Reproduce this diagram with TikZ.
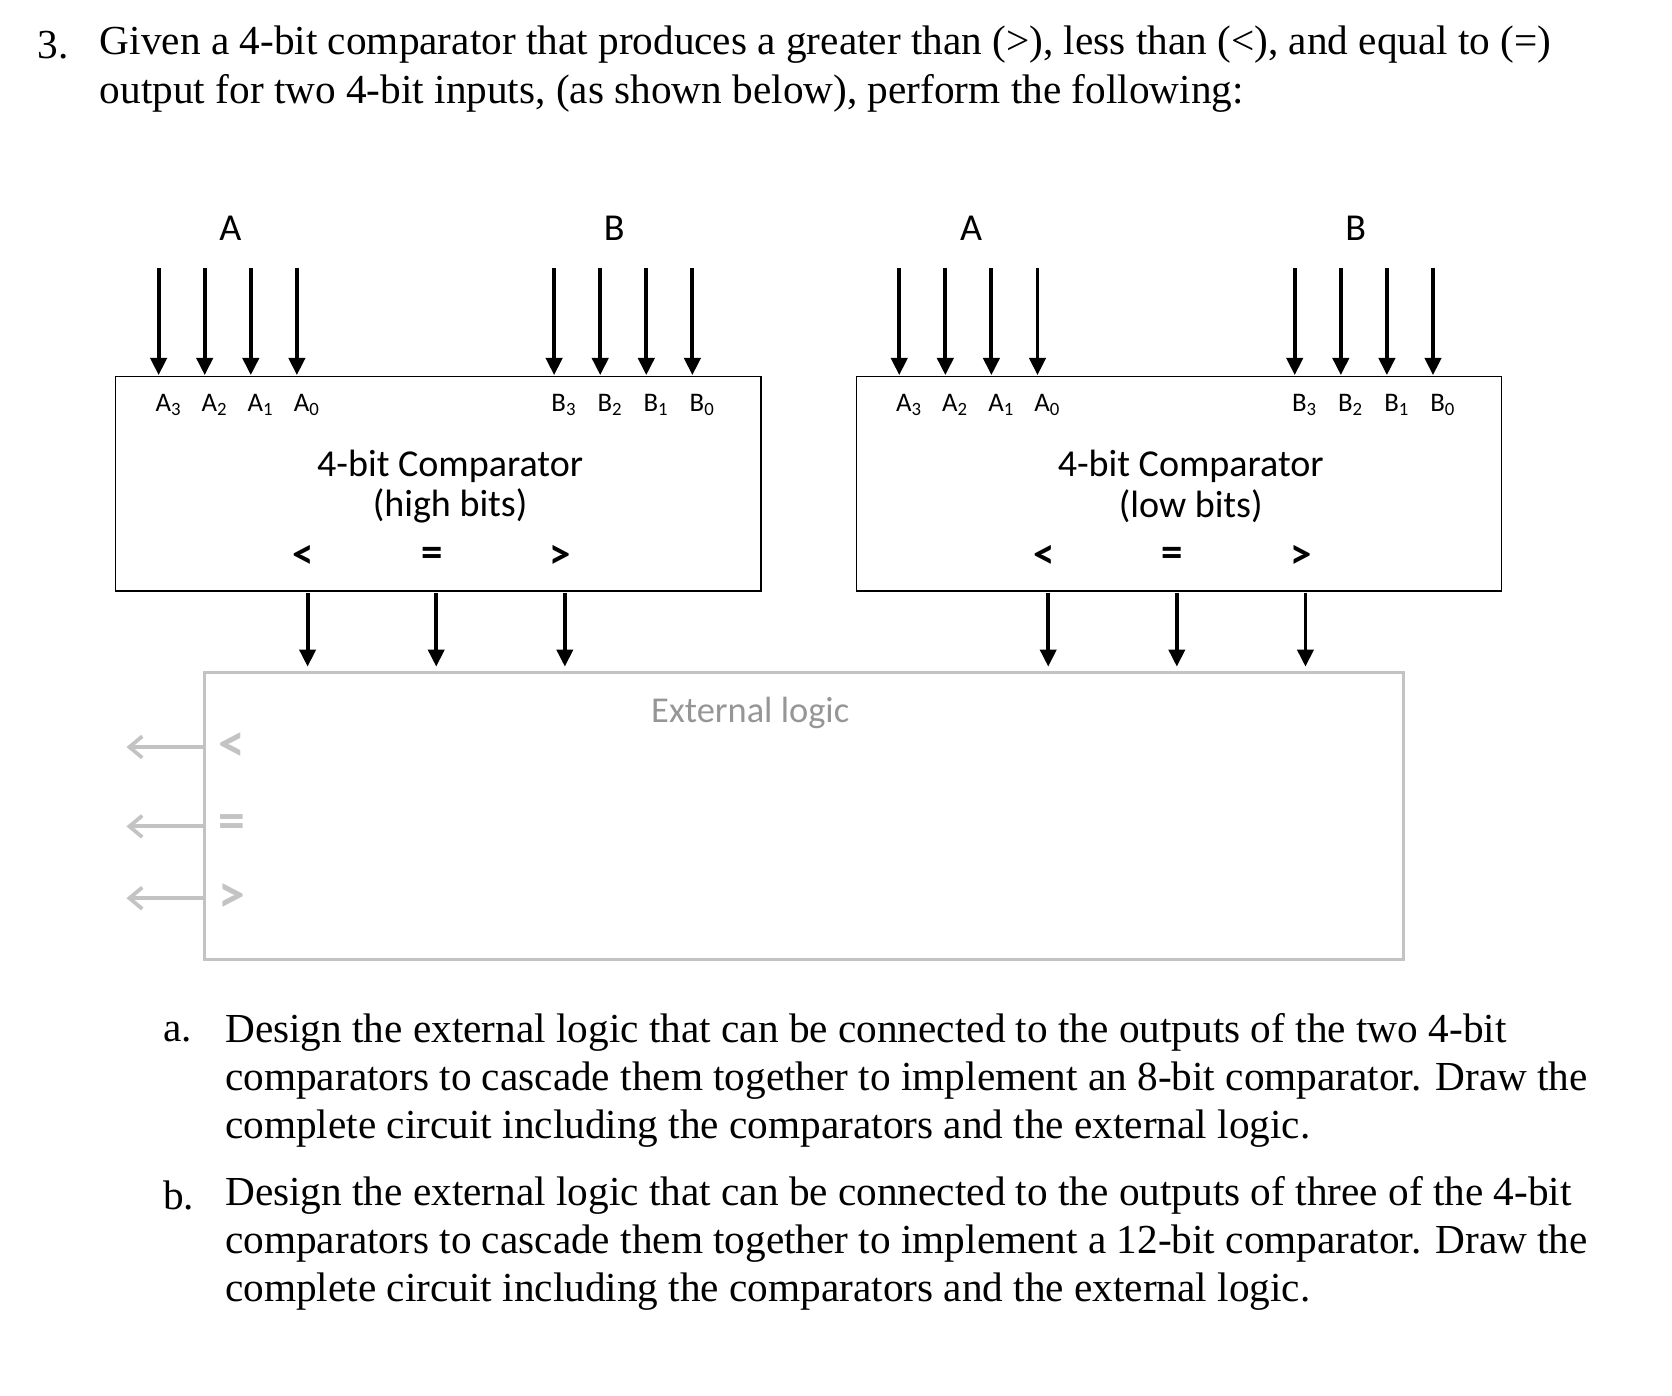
\documentclass[tikz,border=0pt]{standalone}
\usepackage{fontspec}
\setmainfont{Liberation Serif}
\newfontfamily\calfont{Carlito}
\usetikzlibrary{arrows.meta}
\definecolor{lg}{RGB}{195,195,195}
\definecolor{tg}{RGB}{150,150,150}
\begin{document}
\begin{tikzpicture}[x=1pt,y=-1pt,
  txt/.style={anchor=west,inner sep=0,font=\fontsize{38.5}{45}\selectfont},
  box/.style={draw,line width=1.3pt},
  inarr/.style={line width=3.6pt,-{Triangle[length=16pt,width=15pt]}},
  sub/.style={font=\calfont\fontsize{25}{28}\selectfont,inner sep=0},
  big/.style={font=\calfont\fontsize{35.5}{40}\selectfont,inner sep=0},
  sym/.style={font=\calfont\bfseries\fontsize{40}{44}\selectfont,inner sep=0},
  gsym/.style={font=\calfont\bfseries\fontsize{50}{54}\selectfont,inner sep=0,text=lg},
  garr/.style={color=lg,line width=3.5pt,-{Straight Barb[length=12pt,width=20pt]}}]
\useasboundingbox (0,0) rectangle (1560,1302);
\node[txt] (t1) at (35,42) {3.};
\node[txt] (t2) at (93,42) {Given a 4-bit comparator that produces a greater than (>), less than (<), and equal to (=)};
\node[txt] (t3) at (93,87) {output for two 4-bit inputs, (as shown below), perform the following:};
% boxes
\node[box,minimum width=602pt,minimum height=200pt,inner sep=0] (c1) at (409,451.5) {};
\node[box,minimum width=602pt,minimum height=200pt,inner sep=0] (c2) at (1100,451.5) {};
\node[big] at (420,435) {4-bit Comparator};
\node[big] at (420,472) {(high bits)};
\node[big] at (1111,435) {4-bit Comparator};
\node[big] at (1111,472) {(low bits)};
\foreach \lx/\l in {215/A,573/B,906/A,1265/B} \node[big] at (\lx,213) {\l};
\foreach \ox in {0,691}{
  \foreach \x [count=\i] in {148,191,234,277}{
    \pgfmathtruncatemacro\k{4-\i}
    \coordinate (a\ox\i) at (\x+\ox,250);
    \draw[inarr] (a\ox\i) -- (\x+\ox,350);
    \node[sub] at (\x+\ox+9,378) {A\textsubscript{\k}};}
  \foreach \x/\s in {517,560,603,646}{}
  \foreach \x [count=\i] in {517,560,603,646}{
    \pgfmathtruncatemacro\k{4-\i}
    \coordinate (b\ox\i) at (\x+\ox,250);
    \draw[inarr] (b\ox\i) -- (\x+\ox,350);
    \node[sub] at (\x+\ox+9,378) {B\textsubscript{\k}};}
  \foreach \x/\s in {287/<,407/=,527/>}{
    \node[sym] at (\x+\ox-4,520) {\s};
    \coordinate (o\ox\x) at (\x+\ox,553);
    \draw[inarr] (o\ox\x) -- (\x+\ox,622);}
}
\node[draw=lg,line width=3pt,minimum width=1119pt,minimum height=268pt,inner sep=0] (ext) at (750,761.5) {};
\node[font=\calfont\fontsize{34}{38}\selectfont,text=tg,inner sep=0] at (700,665) {External logic};
\foreach \y/\s in {697/<,771/=,838/>}{
  \node[gsym] at (216,\y) {\s};
  \coordinate (e\y) at (190,\y);
  \draw[garr] (e\y) -- (118,\y);}
\node[txt] at (152,963) {a.};
\node[txt] at (210,963) {Design the external logic that can be connected to the outputs of the two 4-bit};
\node[txt] at (210,1008) {comparators to cascade them together to implement an 8-bit comparator. Draw the};
\node[txt] at (210,1053) {complete circuit including the comparators and the external logic.};
\node[txt] at (152,1115) {b.};
\node[txt] at (210,1115) {Design the external logic that can be connected to the outputs of three of the 4-bit};
\node[txt] at (210,1160) {comparators to cascade them together to implement a 12-bit comparator. Draw the};
\node[txt] at (210,1205) {complete circuit including the comparators and the external logic.};
\end{tikzpicture}
\end{document}
